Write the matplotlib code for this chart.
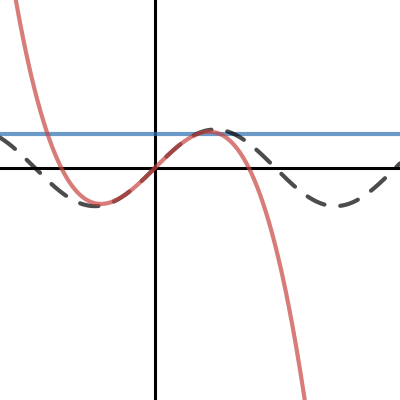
import numpy as np
import matplotlib
matplotlib.use("Agg")
import matplotlib.pyplot as plt

# view window (graph units)
x_range = [-4.05, 6.40]
y_range = [-6.06, 4.38]

# cubic Taylor polynomial of sin(x): coefficients for x^0..x^3
taylor_coeffs = [0.0, 1.0, 0.0, -1.0 / 6.0]
# horizontal reference line
hline_value = 0.87

x = np.linspace(x_range[0], x_range[1], 1500)
y_sin = np.sin(x)
y_taylor = np.polynomial.polynomial.polyval(x, taylor_coeffs)

fig = plt.figure(figsize=(4, 4), dpi=100)
ax = fig.add_axes([0, 0, 1, 1])
ax.set_xlim(x_range)
ax.set_ylim(y_range)
ax.axis("off")

# coordinate axes
ax.axhline(0, color="black", lw=2.2, zorder=1)
ax.axvline(0, color="black", lw=2.2, zorder=1)

lw = 3.0
ax.axhline(hline_value, color="#2d70b3", lw=lw, alpha=0.7, zorder=2)
line, = ax.plot(x, y_sin, color="black", lw=lw, alpha=0.7, zorder=3,
                solid_capstyle="round")
# dash on/off in points (scaled by lw)
line.set_dashes([13.5 / lw, 11.5 / lw])
line.set_dash_capstyle("round")
ax.plot(x, y_taylor, color="#c74440", lw=lw, alpha=0.7, zorder=4)

fig.savefig("out.png", dpi=100)
